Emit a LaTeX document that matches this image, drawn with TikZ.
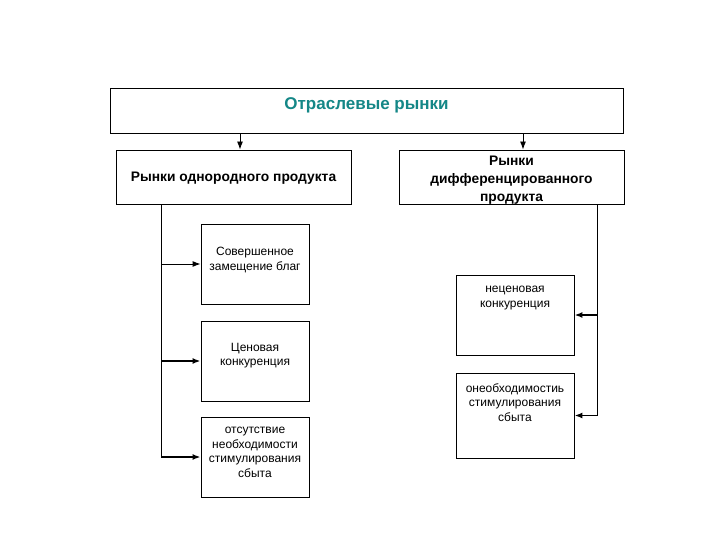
\documentclass[tikz,border=0pt]{standalone}
\usepackage{fontspec}
\setmainfont{Liberation Sans}
\usetikzlibrary{arrows.meta}
\definecolor{titleteal}{RGB}{20,135,135}
\tikzset{
  box/.style={draw=black, line width=0.9pt, fill=white, inner sep=0pt},
  btxt/.style={align=center, font=\fontsize{12}{14.5}\selectfont, inner sep=0pt, anchor=north},
  htxt/.style={align=center, font=\bfseries\fontsize{13.8}{18}\selectfont, inner sep=0pt},
  conn/.style={line width=0.9pt},
  arr/.style={line width=1.6pt, -{Latex[length=8pt,width=6pt]}},
  tarr/.style={line width=0.9pt, -{Latex[length=8pt,width=6pt]}}
}
\begin{document}
\begin{tikzpicture}[x=1pt,y=-1pt]
\useasboundingbox (0,0) rectangle (720,540);
% top
\node[box, minimum width=513pt, minimum height=45pt] (top) at (366.5,110.5) {};
\node[htxt, text=titleteal, font=\bfseries\fontsize{17}{20}\selectfont] (toptxt) at (366.5,105.5) {Отраслевые рынки};
% second level
\node[box, minimum width=235pt, minimum height=54pt] (lb) at (233.5,177) {};
\node[htxt] (lbtxt) at (233.5,178) {Рынки однородного продукта};
\node[box, minimum width=225pt, minimum height=54pt] (rb) at (511.5,177) {};
\node[htxt] (rbtxt) at (511.5,180) {Рынки\\дифференцированного\\продукта};
\coordinate (A) at (240,0);
\coordinate (B) at (523,0);
\draw[tarr] (A |- top.south) -- (A |- lb.north);
\draw[tarr] (B |- top.south) -- (B |- rb.north);
% left boxes
\node[box, minimum width=108pt, minimum height=80pt] (b1) at (255,264) {};
\node[btxt] (b1t) at (255,247) {Совершенное\\замещение благ};
\node[box, minimum width=108pt, minimum height=80pt] (b2) at (255,361) {};
\node[btxt] (b2t) at (255,343) {Ценовая\\конкуренция};
\node[box, minimum width=108pt, minimum height=80pt] (b3) at (255,457) {};
\node[btxt] (b3t) at (255,427) {отсутствие\\необходимости\\стимулирования\\сбыта};
% right boxes
\node[box, minimum width=118pt, minimum height=80pt] (r1) at (515,315) {};
\node[btxt] (r1t) at (515,286) {неценовая\\конкуренция};
\node[box, minimum width=118pt, minimum height=85pt] (r2) at (515,415.5) {};
\node[btxt] (r2t) at (515,383) {онеобходимостиь\\стимулирования\\сбыта};
% left connectors
\coordinate (L) at (161,0);
\draw[conn] (L |- lb.south) -- (L |- b3.west);
\draw[tarr] (L |- b1.west) -- (b1.west);
\draw[arr] (L |- b2.west) -- (b2.west);
\draw[arr] (L |- b3.west) -- (b3.west);
% right connectors
\coordinate (R) at (597,0);
\draw[conn] (R |- rb.south) -- (R |- r2.east);
\draw[arr] (R |- r1.east) -- (r1.east);
\draw[arr] (R |- r2.east) -- (r2.east);
\end{tikzpicture}
\end{document}
